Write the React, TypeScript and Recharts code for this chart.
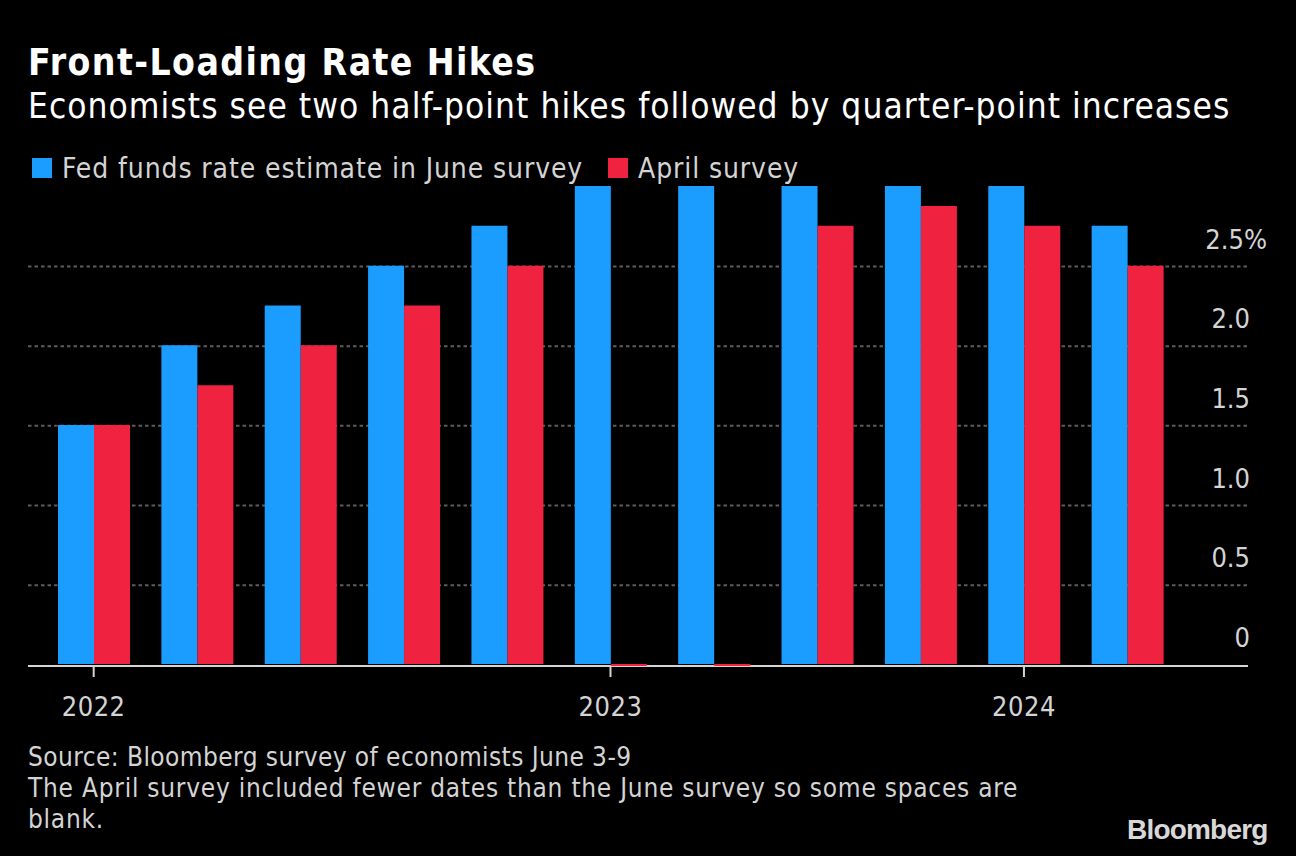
import { BarChart, Bar, XAxis, YAxis, CartesianGrid, Legend } from "recharts"

const quarters = ["2022", "Q4 22", "Q1 23", "Q2 23", "Q3 23", "2023", "Q1 24", "Q2 24", "Q3 24", "2024", "Q1 25"]
const juneSurvey = [1.5, 2.0, 2.25, 2.5, 2.75, 3.0, 3.0, 3.0, 3.0, 3.0, 2.75]
const aprilSurvey = [1.5, 1.75, 2.0, 2.25, 2.5, null, null, 2.75, 2.875, 2.75, 2.5]
// the two blank April dates show as a hairline on the axis
const aprilBlank = [null, null, null, null, null, -0.012, -0.012, null, null, null, null]
const yTicks = [0, 0.5, 1, 1.5, 2, 2.5]
const gridLines = [0.5, 1, 1.5, 2, 2.5]
const yearTicks = ["2022", "2023", "2024"]

const data = quarters.map((q, i) => ({ q, june: juneSurvey[i], april: aprilSurvey[i], blank: aprilBlank[i] }))

const BLUE = "#1a9dff"
const RED = "#ef2340"
const TEXT = "#d4d4d4"
const FONT = "'DejaVu Sans Condensed', 'DejaVu Sans', sans-serif"

function YTick({ y, payload }: any) {
  const v = payload.value
  const label = v === 0 ? "0" : v === 2.5 ? "2.5%" : v.toFixed(1)
  return (
    <text x={v === 2.5 ? 1267 : 1250} y={y - 17} textAnchor="end" fill={TEXT} fontSize={27} fontFamily={FONT}>
      {label}
    </text>
  )
}

function LegendRow({ payload }: any) {
  const items = (payload || []).filter((p: any) => p.type !== "none")
  return (
    <div style={{ height: 40, position: "relative", fontFamily: FONT, fontSize: 28, letterSpacing: 0.9, color: TEXT }}>
      {items.map((p: any, i: number) => (
        <div key={p.value} style={{ position: "absolute", left: i === 0 ? 4 : 580, top: 0, display: "flex", alignItems: "center", height: 44, whiteSpace: "nowrap" }}>
          <span style={{ width: 20, height: 20, background: p.color, marginRight: 10 }} />
          <span>{p.value}</span>
        </div>
      ))}
    </div>
  )
}

const abs = (left: number, top: number, extra: any) => ({ position: "absolute", left, top, whiteSpace: "nowrap", fontFamily: FONT, ...extra })

export default function App() {
  return (
    <div style={{ position: "absolute", left: 0, top: 0, width: 1296, height: 856, background: "#000", overflow: "hidden" }}>
      <div style={abs(28, 40, { color: "#fff", fontSize: 37, fontWeight: 700, letterSpacing: 1.4, lineHeight: "46px" })}>Front-Loading Rate Hikes</div>
      <div style={abs(28, 84, { color: "#fff", fontSize: 35, letterSpacing: 1.03, lineHeight: "44px" })}>Economists see two half-point hikes followed by quarter-point increases</div>
      <BarChart
        width={1296}
        height={856}
        data={data}
        barGap={0}
        barSize={36}
        margin={{ top: 146, right: 0, bottom: 130, left: 28 }}
        style={{ position: "absolute", left: 0, top: 0 }}
      >
        {/* nudged down a hair, the gridlines sit just under the bar tops in the original */}
        <CartesianGrid
          horizontal
          vertical={false}
          horizontalValues={gridLines.map((v) => v - 0.005)}
          stroke="#5c5c5c"
          strokeWidth={2}
          strokeDasharray="3.5 3"
        />
        <XAxis
          dataKey="q"
          ticks={yearTicks}
          interval={0}
          height={60}
          padding={{ left: 14, right: 69 }}
          tickSize={11}
          stroke={TEXT}
          strokeWidth={2}
          tick={{ fill: TEXT, fontSize: 27, letterSpacing: 0.5, fontFamily: FONT }}
          tickMargin={20}
        />
        <YAxis
          orientation="right"
          width={48}
          domain={[0, 3]}
          ticks={yTicks}
          axisLine={false}
          tickLine={false}
          tick={YTick}
        />
        <Legend verticalAlign="top" align="left" itemSorter={null} content={LegendRow} />
        <Bar dataKey="june" stackId="june" name="Fed funds rate estimate in June survey" fill={BLUE} isAnimationActive={false} />
        <Bar dataKey="april" stackId="april" name="April survey" fill={RED} isAnimationActive={false} />
        <Bar dataKey="blank" stackId="april" legendType="none" fill={RED} zIndex={600} isAnimationActive={false} />
      </BarChart>
      <div style={abs(28, 742, { color: TEXT, fontSize: 26, letterSpacing: 0.75, lineHeight: "31px" })}>
        <span style={{ letterSpacing: 0.42 }}>Source: Bloomberg survey of economists June 3-9</span>
        <br />
        The April survey included fewer dates than the June survey so some spaces are
        <br />
        blank.
      </div>
      <div style={abs(1127, 814, { color: "#d8d8d8", fontSize: 28, fontWeight: 700, fontFamily: "'Liberation Sans', sans-serif", letterSpacing: -0.8 })}>Bloomberg</div>
    </div>
  )
}
